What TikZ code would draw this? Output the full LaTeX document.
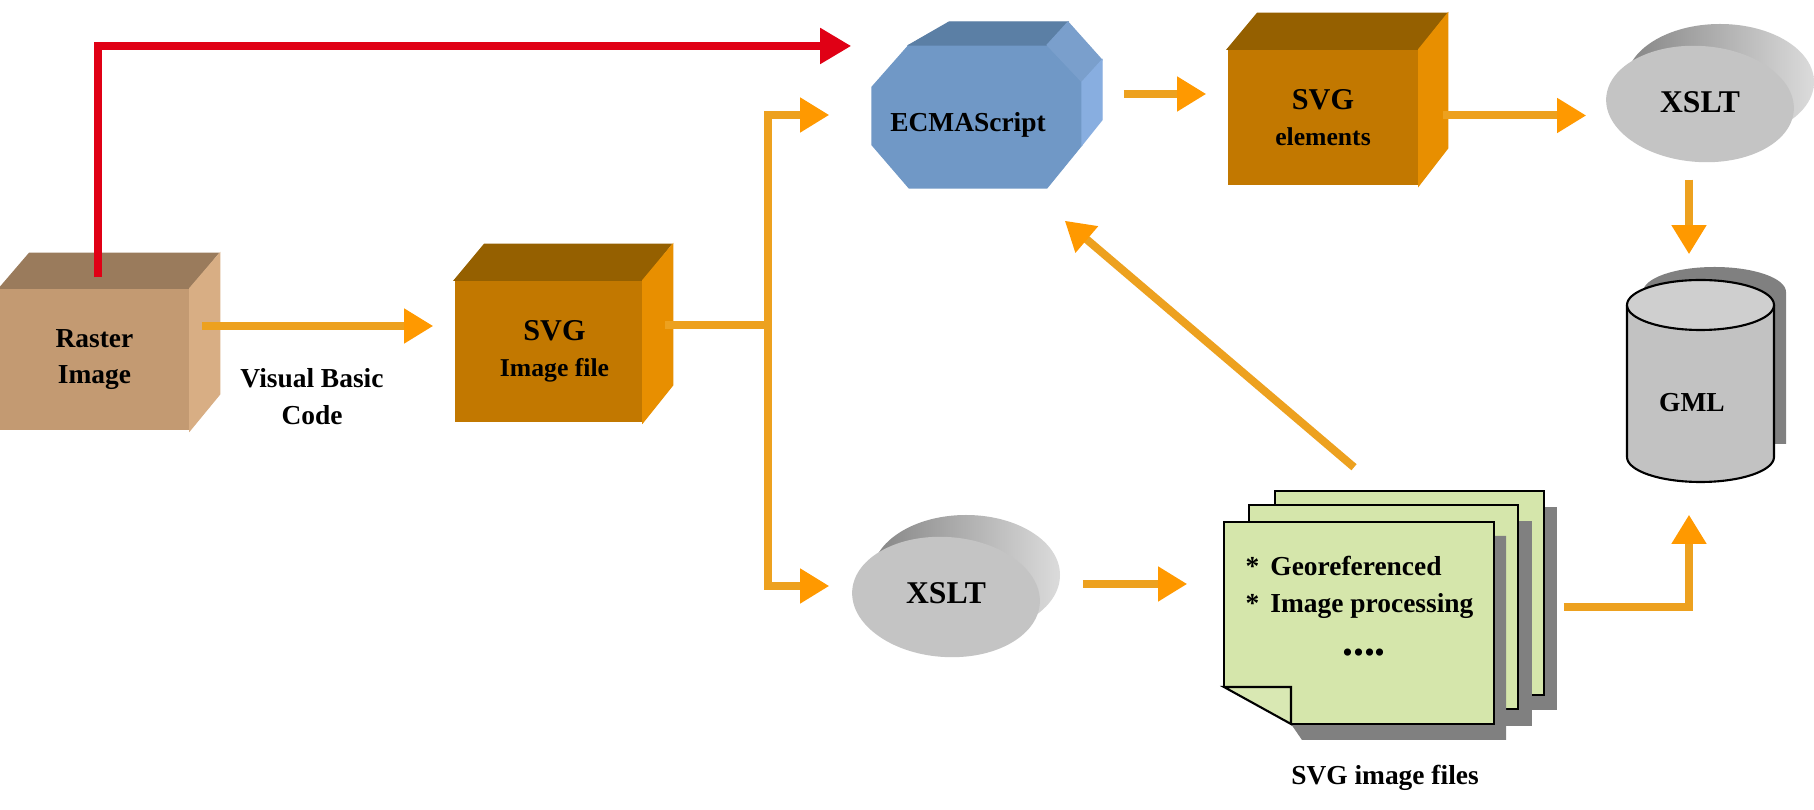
\documentclass[tikz,border=0pt]{standalone}
\usepackage{fontspec}
\setmainfont{Liberation Serif}
\usetikzlibrary{arrows.meta,calc,shapes.geometric}
\definecolor{rasterfront}{HTML}{C39A72}
\definecolor{rastertop}{HTML}{9A7B5C}
\definecolor{rasterside}{HTML}{D8AE84}
\definecolor{svgfront}{HTML}{C27800}
\definecolor{svgtop}{HTML}{956000}
\definecolor{svgside}{HTML}{E88F00}
\definecolor{ecmafront}{HTML}{7098C6}
\definecolor{ecmatop}{HTML}{5B7FA5}
\definecolor{ecmabevel}{HTML}{7A9FCC}
\definecolor{ecmaside}{HTML}{88AEE0}
\definecolor{pagefill}{HTML}{D5E6AB}
\definecolor{flowline}{HTML}{EDA11F}
\definecolor{flowhead}{HTML}{FF9900}
\definecolor{redline}{HTML}{E00015}
\begin{document}
\begin{tikzpicture}[x=0.01cm,y=0.01cm,
  flow/.style={draw=flowline,line width=0.08cm,-{Triangle[length=0.29cm,width=0.33cm,color=flowhead]}},
  plainflow/.style={draw=flowline,line width=0.08cm},
  redflow/.style={draw=redline,line width=0.08cm,-{Triangle[length=0.31cm,width=0.34cm,color=redline]}},
  cubeface/.style={rectangle,font=\fontsize{7.8}{10.2}\selectfont\bfseries,align=center},
  label/.style={font=\fontsize{7.8}{10.5}\selectfont\bfseries,align=center},
  oval/.style={ellipse,minimum width=1.88cm,minimum height=1.18cm,font=\fontsize{9}{11}\selectfont\bfseries},
  ovalfront/.style={fill=black!23},
  ovalback/.style={left color=black!48,right color=black!14},
  page/.style={fill=pagefill,draw=black,line width=0.6pt},
  pageshadow/.style={fill=black!50},
  seam/.style={line width=0.3pt}]
\tikzstyle{every node}+=[inner sep=0pt]
\useasboundingbox (0,0) rectangle (1814,-810);
\fill [white] (0,0) rectangle (1814,-810);
\node [cubeface,fill=rasterfront,minimum width=1.89cm,minimum height=1.41cm] (raster) at (94.5,-359.5) {Raster\\Image};
\filldraw [rastertop,seam] (raster.north west) -- ++(30,35) -- ++(189,0) -- (raster.north east) -- cycle;
\filldraw [rasterside,seam] (raster.north east) -- ++(30,35) -- ++(0,-141) -- (raster.south east) -- cycle;
\node [cubeface,fill=svgfront,minimum width=1.87cm,minimum height=1.41cm] (svgfile) at (548.5,-351.5) {\hspace*{.12cm}{\fontsize{8.6}{11}\selectfont SVG}\\\hspace*{.12cm}{\fontsize{7.3}{10}\selectfont Image file}};
\filldraw [svgtop,seam] (svgfile.north west) -- ++(30,36) -- ++(187,0) -- (svgfile.north east) -- cycle;
\filldraw [svgside,seam] (svgfile.north east) -- ++(30,36) -- ++(0,-141) -- (svgfile.south east) -- cycle;
\node [cubeface,fill=svgfront,minimum width=1.90cm,minimum height=1.35cm] (elements) at (1323,-117.5) {{\fontsize{8.6}{11}\selectfont SVG}\\{\fontsize{7.3}{10}\selectfont elements}};
\filldraw [svgtop,seam] (elements.north west) -- ++(30,36) -- ++(190,0) -- (elements.north east) -- cycle;
\filldraw [svgside,seam] (elements.north east) -- ++(29,36) -- ++(0,-135) -- (elements.south east) -- cycle;
\filldraw [ecmafront,seam] (872,-87) -- (909,-45) -- (1047,-45) -- (1082,-82) -- (1082,-145) -- (1047,-188) -- (909,-188) -- (872,-145) -- cycle;
\filldraw [ecmatop,seam] (909,-45) -- (949,-22) -- (1068,-22) -- (1047,-45) -- cycle;
\filldraw [ecmabevel,seam] (1047,-45) -- (1068,-22) -- (1102,-60) -- (1082,-82) -- cycle;
\filldraw [ecmaside,seam] (1082,-82) -- (1102,-60) -- (1102,-120) -- (1082,-145) -- cycle;
\node [cubeface,minimum width=1.92cm,minimum height=1.30cm] (ecma) at (968,-125) {ECMAScript};
\shade [ovalback] (1720,-82) ellipse (94 and 58);
\fill [ovalfront,rotate around={-4:(1700,-104)}] (1700,-104) ellipse (94 and 58);
\node [oval] (xsltup) at (1700,-102) {XSLT};
\shade [ovalback] (966,-575) ellipse (94 and 60);
\fill [ovalfront,rotate around={-4:(946,-597)}] (946,-597) ellipse (94 and 60);
\node [oval] (xsltlow) at (946,-593) {XSLT};
\fill [pageshadow] (1643,-292) -- (1643,-444) -- (1786,-444) -- (1786,-292) arc (0:180:71.5 and 25) -- cycle;
\fill [black!24] (1627,-305) -- (1627,-457) arc (180:360:73.5 and 25) -- (1774,-305) -- cycle;
\draw [black,line width=0.6pt] (1627,-305) -- (1627,-457) arc (180:360:73.5 and 25) -- (1774,-305);
\draw [black,line width=0.6pt,fill=black!19] (1700.5,-305) ellipse (73.5 and 25);
\node [cubeface,minimum width=1.64cm,minimum height=1.58cm] (gml) at (1692,-403) {GML};
\fill [pageshadow] (1287,-507) rectangle (1557,-710);
\draw [page] (1275,-491) rectangle (1544,-695);
\fill [pageshadow] (1261,-521) rectangle (1532,-726);
\draw [page] (1249,-505) rectangle (1518,-709);
\fill [white] (1215,-680) -- (1300,-680) -- (1300,-750) -- (1215,-750) -- cycle;
\fill [pageshadow] (1291,-724) -- (1302,-740) -- (1506,-740) -- (1506,-536) -- (1400,-536) -- cycle;
\draw [page] (1224,-522) -- (1494,-522) -- (1494,-724) -- (1291,-724) -- (1291,-687) -- (1224,-687) -- cycle;
\draw [page,fill=pagefill!90!white] (1224,-687) -- (1291,-687) -- (1291,-724) -- cycle;
\node [minimum width=2.70cm,minimum height=2.02cm] (stack) at (1359,-623) {};
\node [label,anchor=west,align=left] (stacktext) at (1245,-587.5) {*\hspace{1.1mm}Georeferenced\\*\hspace{1.1mm}Image processing};
\node [label] (stackdots) at (1364,-653) {\fontsize{12.5}{13}\selectfont\bfseries ....};
\node [label] (stacklabel) at (1385,-778) {SVG image files};
\node [label] (vbcode) at (312,-397) {Visual Basic\\Code};
\coordinate (split) at (768,-325);
\draw [flow] ($(raster.east)+(12,33.5)$) -- ($(svgfile.west)+(-21,25.5)$);
\draw [redflow] ($(raster.north)+(3.5,11)$) |- ($(ecma.west)+(-20,79)$);
\draw [plainflow] ($(svgfile.east)+(22,26.5)$) -- (split);
\draw [flow] (split) |- ($(ecma.west)+(-42,10)$);
\draw [flow] (split) |- ($(xsltlow.west)+(-22,7)$);
\draw [flow] ($(ecma.east)+(59,31)$) -- ($(elements.west)+(-21,23.5)$);
\draw [flow] ($(elements.east)+(24,2)$) -- ($(xsltup.west)+(-19,-13.5)$);
\draw [flow] ($(xsltup.south)+(-11,-18)$) -- ($(gml.north)+(-3,69)$);
\draw [flow] ($(xsltlow.east)+(42,9)$) -- ($(stack.west)+(-36,39)$);
\draw [flow] ($(stack.east)+(69,16)$) -| ($(gml.south)+(-3,-32)$);
\draw [flow] ($(stack.north)+(-5,54)$) -- ($(ecma.south east)+(0,-30)$);
\end{tikzpicture}
\end{document}
